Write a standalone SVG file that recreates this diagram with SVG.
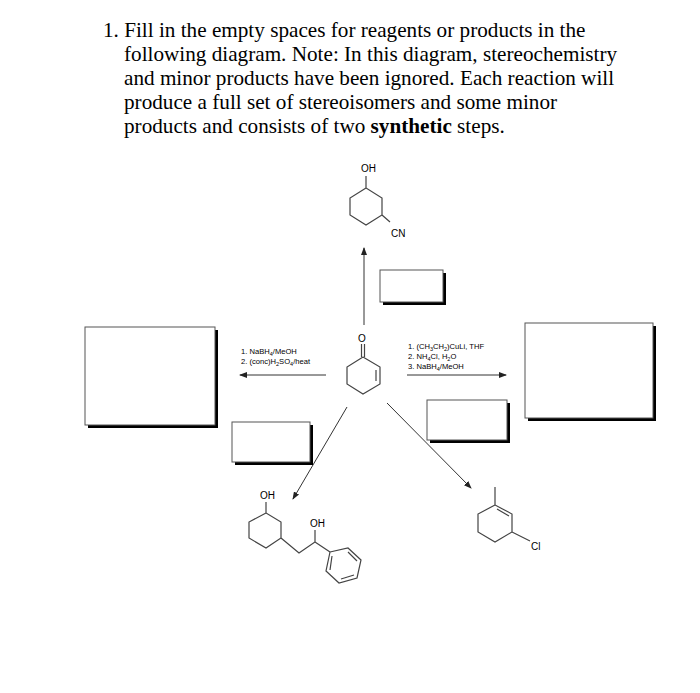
<svg xmlns="http://www.w3.org/2000/svg" width="700" height="693" viewBox="0 0 700 693">
<style>
.t{font-family:"Liberation Serif",serif;font-size:21.2px;fill:#000}
.s{font-family:"Liberation Sans",Arial,sans-serif;font-size:7.6px;fill:#000}
.a{font-family:"Liberation Sans",Arial,sans-serif;font-size:10px;fill:#000}
.b{fill:none;stroke:#444;stroke-width:1.2}
.box{fill:#fff;stroke:#555;stroke-width:1}
.sh{fill:#000}
.c{stroke:#333;stroke-width:1;fill:none}
</style>
<defs><marker id="ah" markerWidth="8" markerHeight="6" refX="7" refY="3" orient="auto" markerUnits="userSpaceOnUse"><path d="M0,0L8,3L0,6z" fill="#222"/></marker></defs>
<rect width="700" height="693" fill="#fff"/>
<g id="question">
<text class="t" x="103" y="37">1. Fill in the empty spaces for reagents or products in the</text>
<text class="t" x="124" y="61">following diagram. Note: In this diagram, stereochemistry</text>
<text class="t" x="124" y="85">and minor products have been ignored. Each reaction will</text>
<text class="t" x="124" y="109">produce a full set of stereoisomers and some minor</text>
<text class="t" x="124" y="133">products and consists of two <tspan font-weight="bold">synthetic</tspan> steps.</text>
</g>
<g id="connectors">
<line class="c" x1="364" y1="325" x2="364" y2="248" marker-end="url(#ah)"/>
<line class="c" x1="326" y1="375" x2="240" y2="375" marker-end="url(#ah)"/>
<line class="c" x1="407" y1="375" x2="506" y2="375" marker-end="url(#ah)"/>
<line class="c" x1="347" y1="407" x2="293" y2="499" marker-end="url(#ah)"/>
<line class="c" x1="387" y1="403" x2="471" y2="488" marker-end="url(#ah)"/>
</g>
<g id="reagents-left">
<text class="s" x="241" y="354">1. NaBH<tspan font-size="5.5" dy="2">4</tspan><tspan dy="-2">/MeOH</tspan></text>
<text class="s" x="241" y="364">2. (conc)H<tspan font-size="5.5" dy="2">2</tspan><tspan dy="-2">SO</tspan><tspan font-size="5.5" dy="2">4</tspan><tspan dy="-2">/heat</tspan></text>
</g>
<g id="reagents-right">
<text class="s" x="408" y="349">1. (CH<tspan font-size="5.5" dy="2">3</tspan><tspan dy="-2">CH</tspan><tspan font-size="5.5" dy="2">2</tspan><tspan dy="-2">)CuLi, THF</tspan></text>
<text class="s" x="408" y="359">2. NH<tspan font-size="5.5" dy="2">4</tspan><tspan dy="-2">Cl, H</tspan><tspan font-size="5.5" dy="2">2</tspan><tspan dy="-2">O</tspan></text>
<text class="s" x="408" y="369">3. NaBH<tspan font-size="5.5" dy="2">4</tspan><tspan dy="-2">/MeOH</tspan></text>
</g>
<g id="box-top"><rect class="sh" x="383" y="273" width="63" height="32"/><rect class="box" x="380" y="270" width="63" height="32"/></g>
<g id="box-left"><rect class="sh" x="88" y="330" width="130" height="98"/><rect class="box" x="85" y="327" width="130" height="98"/></g>
<g id="box-right"><rect class="sh" x="528" y="326" width="128" height="95"/><rect class="box" x="525" y="323" width="128" height="95"/></g>
<g id="box-midleft"><rect class="sh" x="235" y="425" width="78" height="40"/><rect class="box" x="232" y="422" width="78" height="40"/></g>
<g id="box-midright"><rect class="sh" x="430" y="403" width="80" height="40"/><rect class="box" x="427" y="400" width="80" height="40"/></g>
<g id="hydroxynitrile">
<text class="a" x="361" y="172">OH</text>
<path class="b" d="M366,176L366,188L382,198L382,215L366,225L350,215L350,198L366,188M382,215L390,222"/>
<text class="a" x="391" y="237">CN</text>
</g>
<g id="cyclohexenone">
<text class="a" x="358" y="342">O</text>
<path class="b" d="M361.5,344L361.5,357M364.5,344L364.5,357M363,357L380,367L380,384L363,394L347,384L347,367L363,357M376,370L376,381"/>
</g>
<g id="diol">
<text class="a" x="260" y="499">OH</text>
<path class="b" d="M266,502L266,513L281,522L281,538L266,548L249,538L249,522L266,513M281,538L299,553L315,542L315,530M315,542L330,552"/>
<text class="a" x="310" y="527">OH</text>
<path class="b" d="M330,552L348,548L361,560L357,578L339,583L326,571L330,552M348,552L357,561M354,575L341,579M330,570L332,556"/>
</g>
<g id="chloroalkene">
<path class="b" d="M495,487L495,505L512,514L512,532L495,542L478,532L478,514L495,505M497,509L509,516M512,532L530,541"/>
<text class="a" x="531" y="550">Cl</text>
</g>
</svg>
